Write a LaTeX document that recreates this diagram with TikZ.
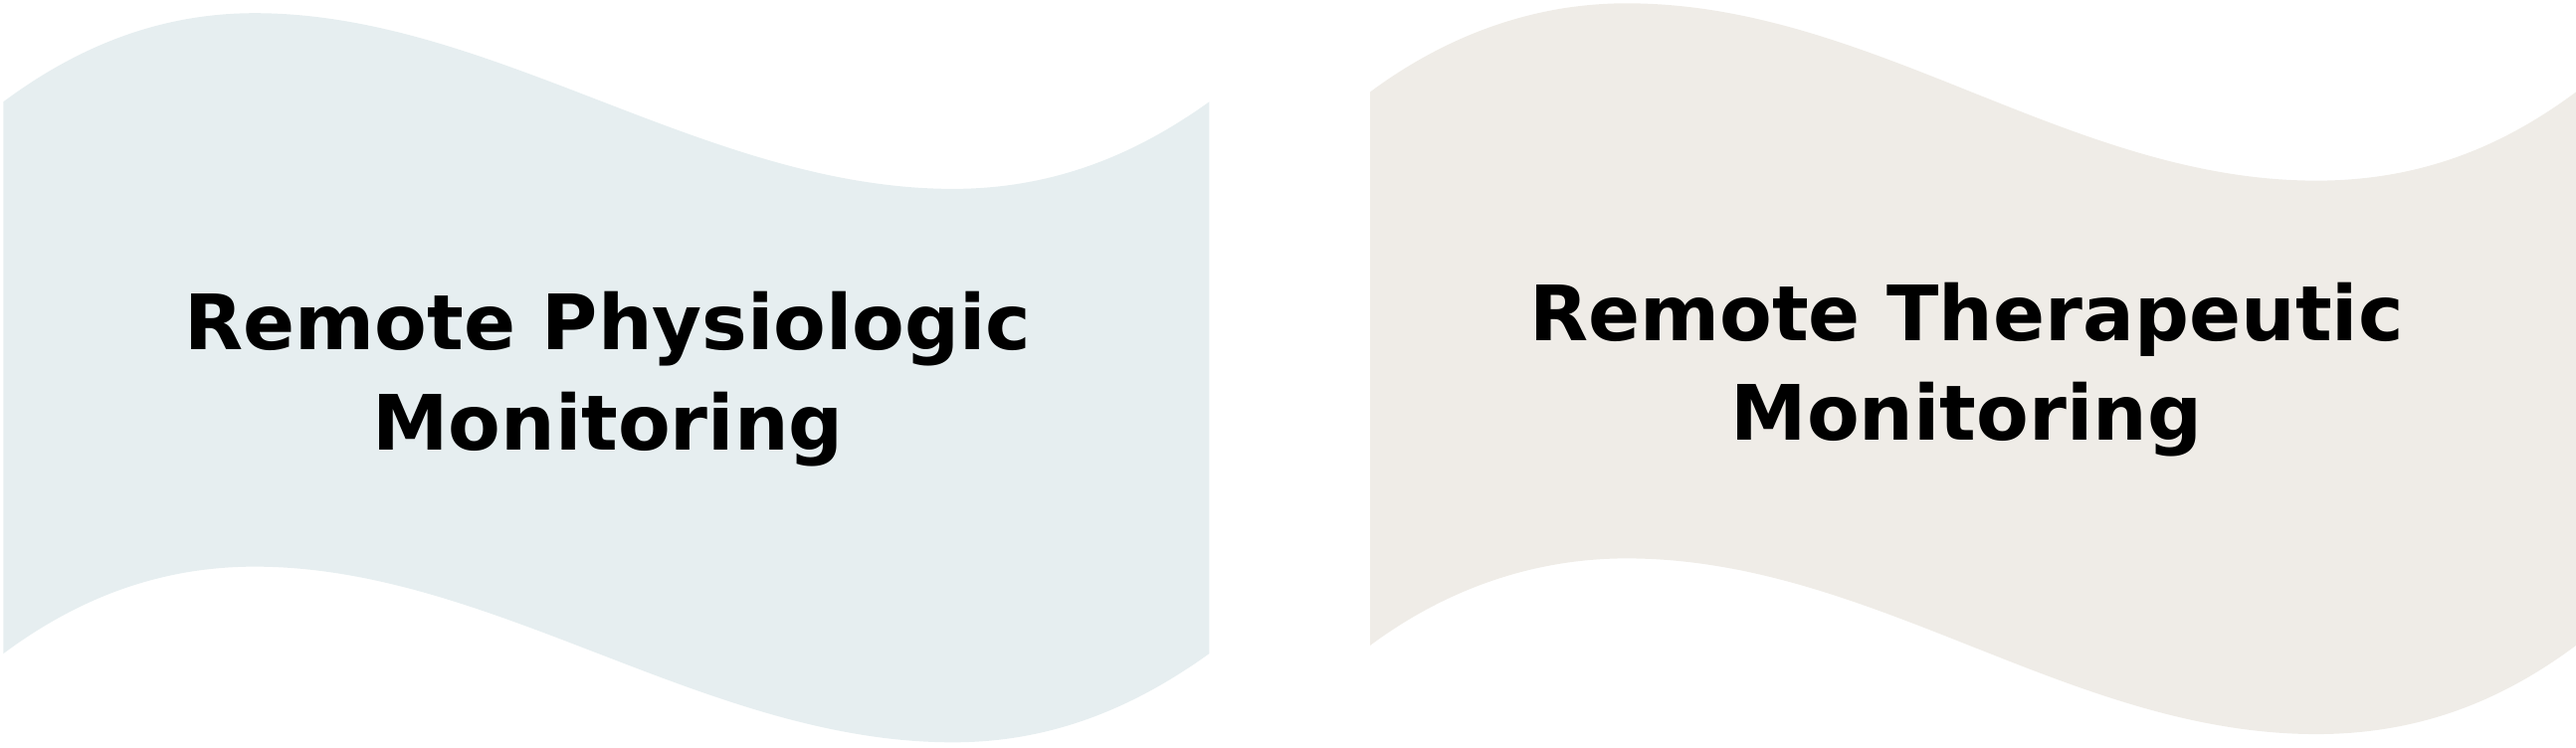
\documentclass[tikz,border=0pt]{standalone}
\usepackage{fontspec}
\setmainfont{DejaVu Sans}
\definecolor{lblue}{HTML}{E6EEF0}
\definecolor{lbeige}{HTML}{EFECE7}
\begin{document}
\begin{tikzpicture}[x=1pt,y=-1pt,
  lbl/.style={font=\fontsize{46.5}{61}\selectfont\bfseries, align=center, text=black}]
\useasboundingbox (0,0) rectangle (1568,455);
\fill[lblue] (2,62) .. controls (45,30) and (95,8) .. (155,8) .. controls (300,8) and (430,115) .. (580,115) .. controls (640,115) and (690,95) .. (736,62)
 -- (736,398) .. controls (690,431) and (640,452) .. (580,452) .. controls (430,452) and (300,345) .. (155,345) .. controls (95,345) and (45,366) .. (2,398) -- cycle;
\fill[lbeige] (834,56) .. controls (877,24) and (930,2) .. (990,2) .. controls (1140,2) and (1260,110) .. (1410,110) .. controls (1475,110) and (1525,88) .. (1568,56)
 -- (1568,393) .. controls (1525,425) and (1475,447) .. (1410,447) .. controls (1260,447) and (1140,340) .. (990,340) .. controls (930,340) and (877,361) .. (834,393) -- cycle;
\node[lbl] (a) at (370,231) {Remote Physiologic\\Monitoring};
\node[lbl] (b) at (1197,225) {Remote Therapeutic\\Monitoring};
\end{tikzpicture}
\end{document}
